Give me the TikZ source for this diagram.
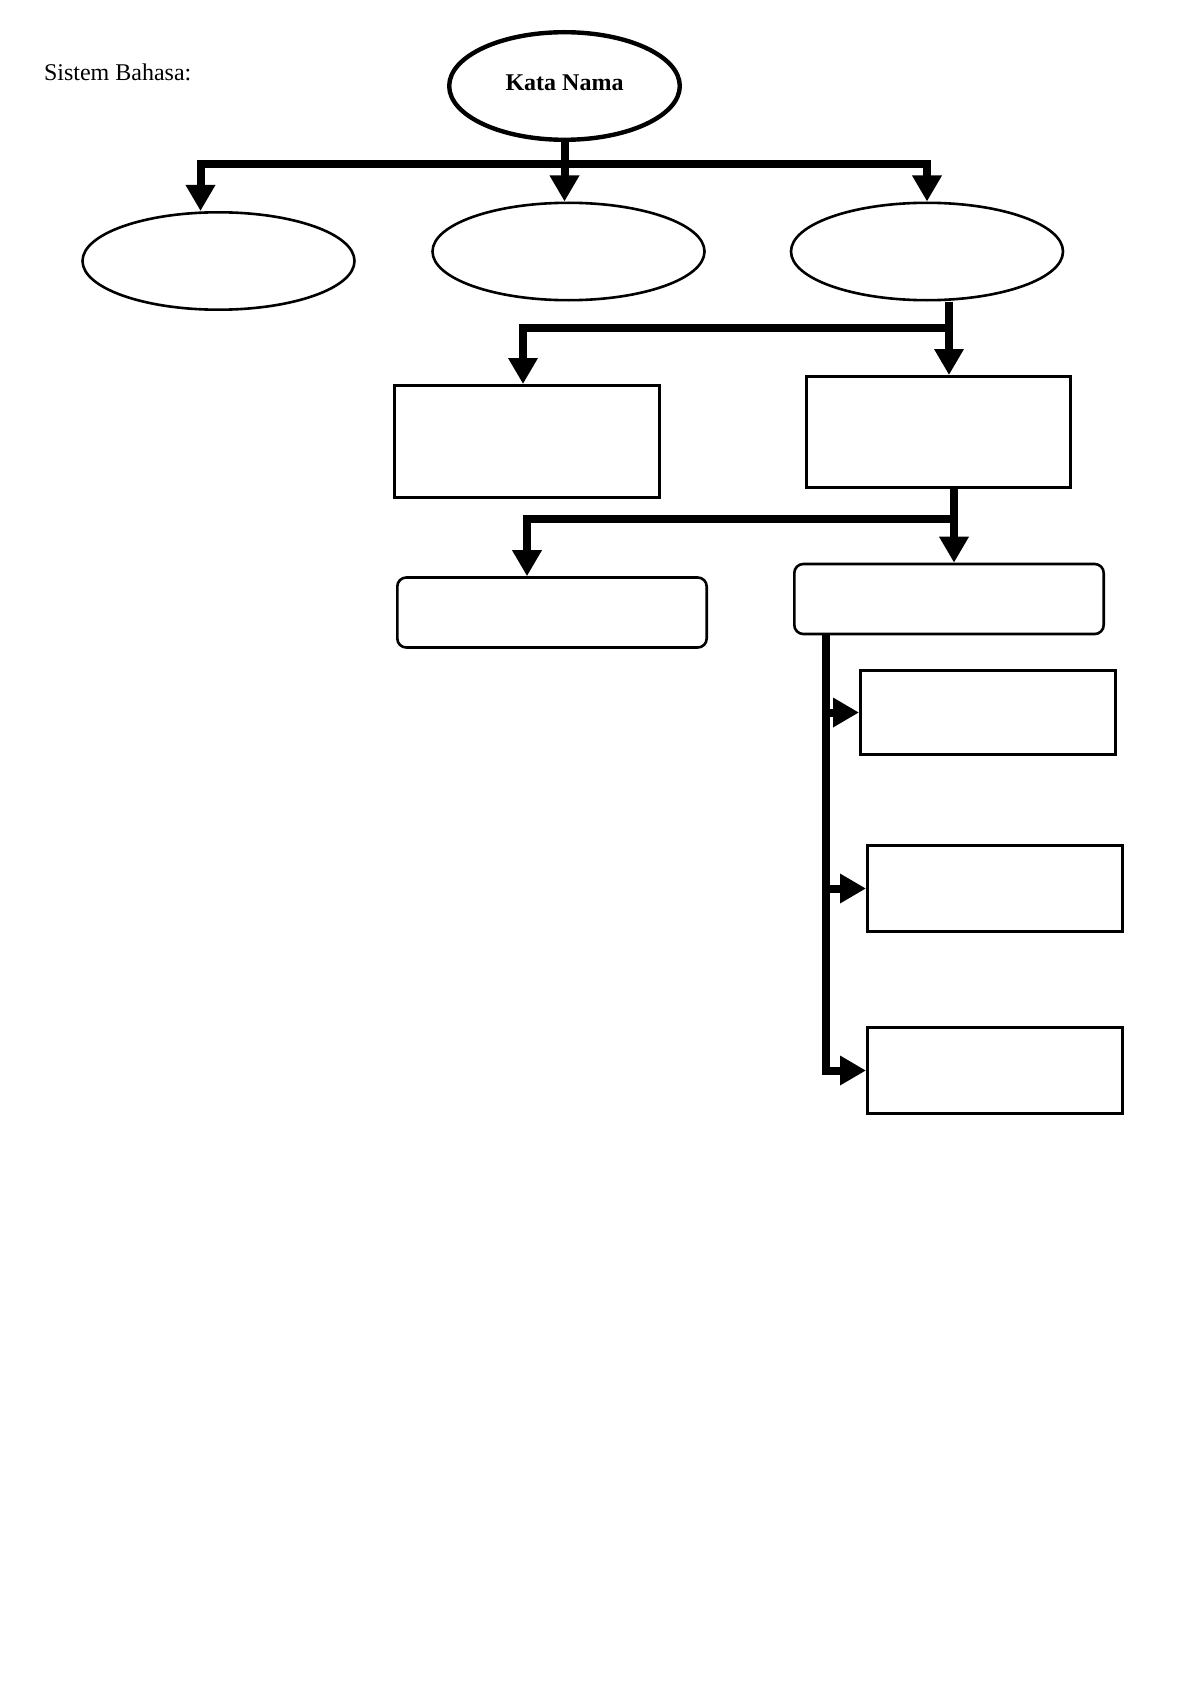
\documentclass[tikz,border=0pt]{standalone}
\usepackage{fontspec}
\setmainfont{Liberation Serif}
\usetikzlibrary{arrows.meta,shapes.geometric}

\begin{document}
\begin{tikzpicture}[x=0.5pt, y=-0.5pt, >={Triangle[length=13pt,width=14pt]},
  oval/.style={draw, ellipse, line width=1.3pt, minimum width=136pt, minimum height=48.7pt, inner sep=0pt},
  box/.style={draw, rectangle, line width=1.3pt, inner sep=0pt},
  roundbox/.style={box, rounded corners=4.5pt, minimum width=154.7pt, minimum height=35pt},
  link/.style={->, line width=4pt}]
  \useasboundingbox (0,0) rectangle (1200,1696);

  % Title and root
  \node[anchor=west, font=\fontsize{12}{14}\selectfont] (title) at (37,72) {Sistem Bahasa:};
  \node[oval, line width=2.2pt, minimum width=115.3pt, minimum height=53.8pt,
        font=\bfseries\fontsize{12}{14}\selectfont] (kata) at (564.5,86) {\raisebox{3pt}{Kata Nama}};

  % Ellipses
  \node[oval] (eL) at (218.5,261) {};
  \node[oval] (eM) at (568.5,251.5) {};
  \node[oval] (eR) at (927,251.5) {};

  % Boxes
  \node[box, minimum width=132.7pt, minimum height=56.2pt] (bL1) at (527,441.5) {};
  \node[box, minimum width=132.2pt, minimum height=55.7pt] (bR1) at (938.5,432) {};
  \node[roundbox] (bL2) at (552,612.5) {};
  \node[roundbox] (bR2) at (949,599) {};
  \node[box, minimum width=127.7pt, minimum height=42.2pt] (bB1) at (988,712.5) {};
  \node[box, minimum width=127.7pt, minimum height=43.2pt] (bB2) at (995,888.5) {};
  \node[box, minimum width=127.7pt, minimum height=43.2pt] (bB3) at (995,1070.5) {};

  % Connectors
  \draw[link] (kata.south) -- ++(0,22) -| ([xshift=-9pt]eL.north);
  \draw[link] (kata.south) -- (kata.south |- eM.north);
  \draw[link] (kata.south) -- ++(0,22) -| (eR.north);

  \coordinate (s2) at ([xshift=11pt]eR.south);
  \draw[link] (s2) -- (s2 |- bR1.north);
  \draw[link] (s2) -- ++(0,26) -| ([xshift=-2pt]bL1.north);

  \coordinate (s3) at ([xshift=7.75pt]bR1.south);
  \draw[link] (s3) -- (s3 |- bR2.north);
  \draw[link] (s3) -- ++(0,30) -| ([xshift=-12.5pt]bL2.north);

  \coordinate (s4) at ([xshift=16.5pt]bR2.south west);
  \foreach \b in {bB1,bB2,bB3}
    \draw[link] (s4) |- (\b.west);
\end{tikzpicture}
\end{document}
